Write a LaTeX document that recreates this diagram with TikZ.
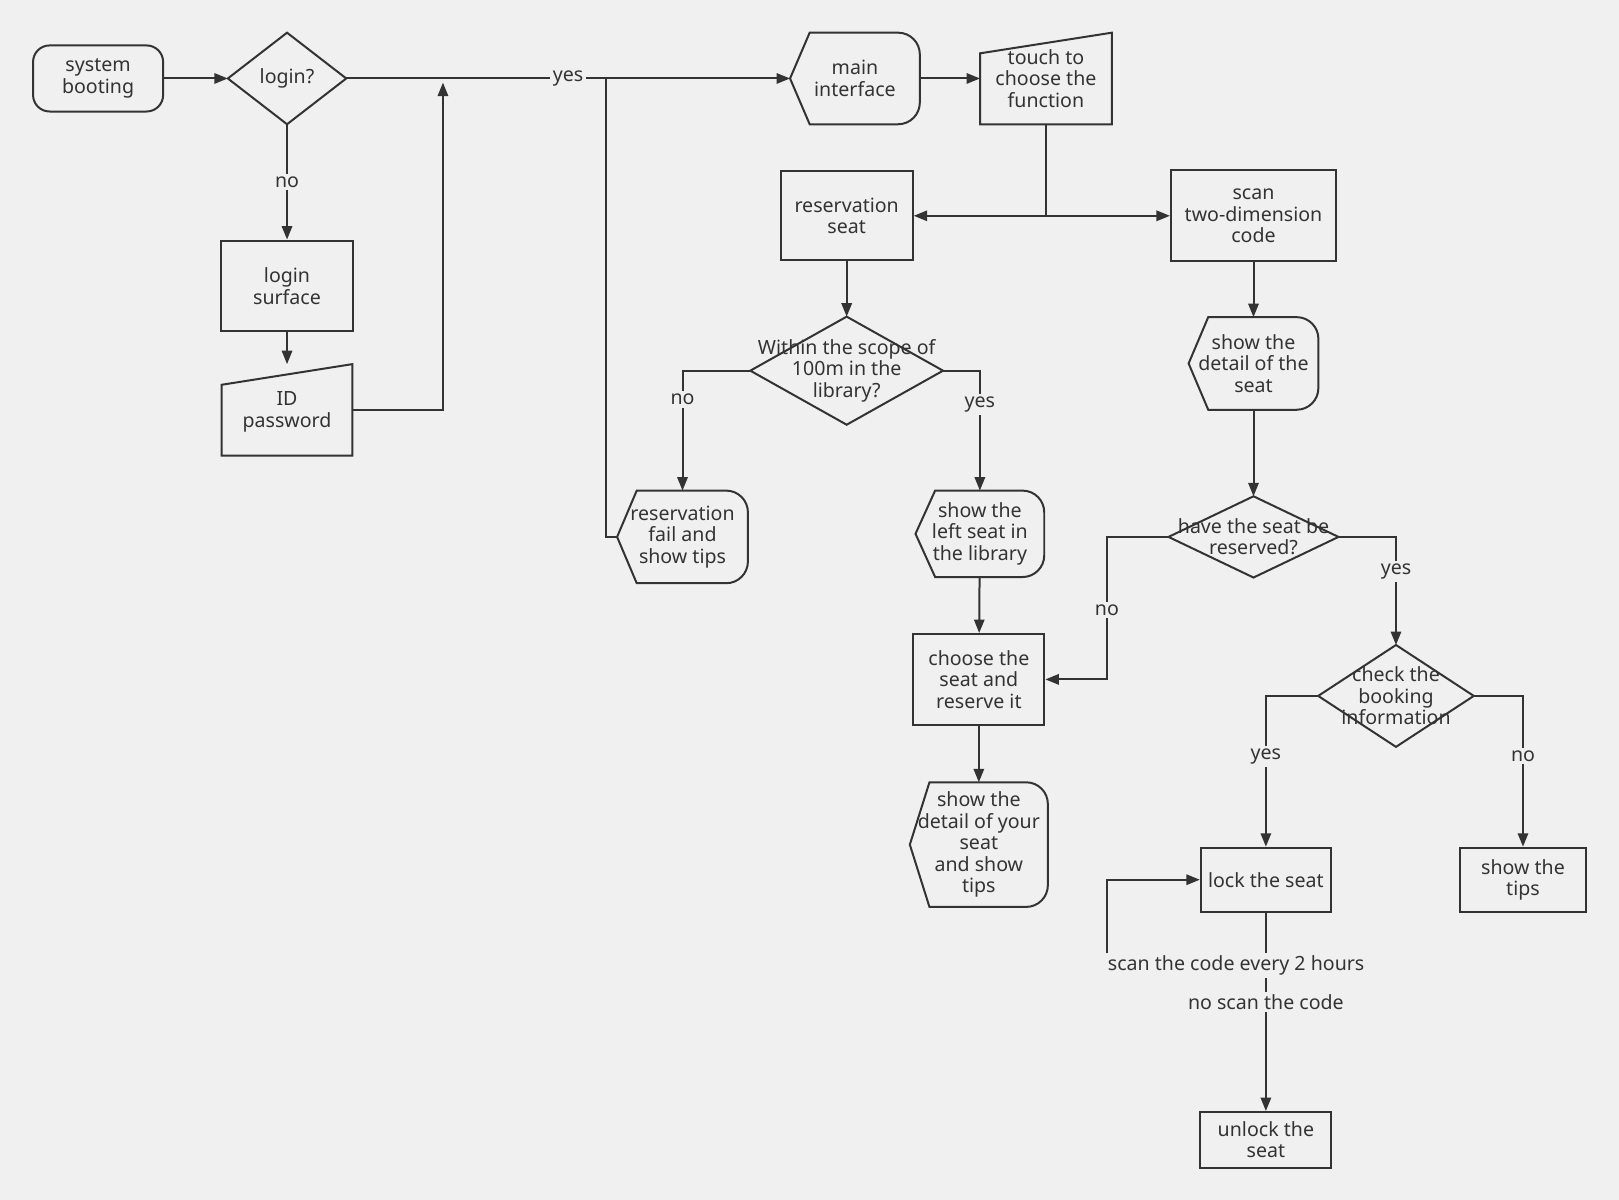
\documentclass[tikz,border=0pt]{standalone}
\usepackage{fontspec}
\setmainfont{Noto Sans}
\usetikzlibrary{arrows.meta,positioning,calc}
\definecolor{bg}{HTML}{F0F0F0}
\definecolor{ink}{HTML}{333333}
\tikzset{
  line/.style={draw=ink,line width=1.1pt},
  arr/.style={line,-{Triangle[length=0.26cm,width=0.2cm]}},
  txt/.style={align=center,font=\fontsize{10.8}{11.8}\selectfont,text=ink,inner sep=1pt},
  box/.style={txt,line,rectangle},
  plain/.style={txt},
  lab/.style={txt,fill=bg,inner sep=1.5pt}
}
\newcommand{\dispshape}[1]{%
  \draw[line] (#1.west) -- ([xshift=0.38cm]#1.north west)
     {[rounded corners=0.42cm] -- (#1.north east) -- (#1.south east)}
     -- ([xshift=0.38cm]#1.south west) -- cycle;}
\newcommand{\manshape}[1]{%
  \draw[line] (#1.south west) -- ([yshift=-0.4cm]#1.north west)
     -- (#1.north east) -- (#1.south east) -- cycle;}
\newcommand{\decshape}[1]{%
  \draw[line] (#1.north) -- (#1.east) -- (#1.south) -- (#1.west) -- cycle;}
\begin{document}
\begin{tikzpicture}[x=0.02cm,y=-0.02cm]
\fill[bg] (0,0) rectangle (1568,1162);
\useasboundingbox (0,0) rectangle (1568,1162);

% left column
\node[box,rounded corners=0.32cm,minimum width=2.52cm,minimum height=1.28cm] (boot) at (95,76) {system\\booting};
\node[plain,minimum width=2.28cm,minimum height=1.76cm] (login) at (278,76) {login?};
\decshape{login}
\node[box,minimum width=2.54cm,minimum height=1.76cm] (surface) at (278,277) {login\\surface};
\node[plain,minimum width=2.52cm,minimum height=1.76cm] (idpw) at (278,397) {\\[-2pt]ID\\password};
\manshape{idpw}

% top row
\node[plain,minimum width=2.5cm,minimum height=1.76cm] (main) at (828,76) {main\\interface};
\dispshape{main}
\node[plain,minimum width=2.54cm,minimum height=1.76cm] (touch) at (1013,76) {touch to\\choose the\\function};
\manshape{touch}
\node[box,minimum width=2.56cm,minimum height=1.72cm] (resv) at (820,209) {reservation\\seat};
\node[box,minimum width=3.2cm,minimum height=1.76cm] (scan) at (1214,209) {scan\\two-dimension\\code};

% reservation branch
\node[plain,minimum width=3.72cm,minimum height=2.08cm] (scope) at (820,359) {Within the scope of\\100m in the\\library?};
\decshape{scope}
\node[plain,minimum width=2.52cm,minimum height=1.78cm] (fail) at (661,520) {reservation\\fail and\\show tips};
\dispshape{fail}
\node[plain,minimum width=2.48cm,minimum height=1.66cm] (left) at (949,517) {show the\\left seat in\\the library};
\dispshape{left}
\node[box,minimum width=2.54cm,minimum height=1.76cm] (choose) at (948,658) {choose the\\seat and\\reserve it};
\node[plain,minimum width=2.66cm,minimum height=2.4cm] (yours) at (948,818) {show the\\detail of your\\seat\\and show\\tips};
\dispshape{yours}

% scan branch
\node[plain,minimum width=2.5cm,minimum height=1.78cm] (detail) at (1214,352) {show the\\detail of the\\seat};
\dispshape{detail}
\node[plain,minimum width=3.28cm,minimum height=1.56cm] (have) at (1214,520) {have the seat be\\reserved?};
\decshape{have}
\node[plain,minimum width=3cm,minimum height=1.96cm] (check) at (1352,674) {check the\\booking\\information};
\decshape{check}
\node[box,minimum width=2.52cm,minimum height=1.24cm] (lock) at (1226,852) {lock the seat};
\node[box,minimum width=2.46cm,minimum height=1.24cm] (tips) at (1475,852) {show the\\tips};
\node[box,minimum width=2.54cm,minimum height=1.08cm] (unlock) at (1226,1104) {unlock the\\seat};

\coordinate (back) at (429,76);
\coordinate (split) at (587,76);
\coordinate (fork) at (1013,209);
\coordinate (loop) at (1072,925);

% connectors
\draw[arr] (boot) -- (login.west);
\draw[arr] (login.south) -- node[lab,pos=0.5]{no} (surface);
\draw[arr] (surface) -- (idpw);
\draw[arr] (idpw.east) -| ([yshift=-0.08cm]back);
\draw[arr] (login.east) -- node[lab,pos=0.5]{yes} (main.west);
\draw[line] (split) |- (fail.west);
\draw[arr] (main) -- (touch.west |- main);
\draw[line] (touch.south) -- (fork);
\draw[arr] (fork) -- (resv.east);
\draw[arr] (fork) -- (scan.west);
\draw[arr] (resv) -- (scope.north);
\draw[arr] (scope.west) -| node[lab,pos=0.62]{no} (fail.north);
\draw[arr] (scope.east) -| node[lab,pos=0.64]{yes} (left.north);
\draw[arr] (left) -- (choose);
\draw[arr] (choose) -- (yours);
\draw[arr] (scan) -- (detail);
\draw[arr] (detail) -- (have.north);
\draw[arr] (have.west) -| (1072,600) |- (choose.east);
\node[lab] (nolab) at (1072,591) {no};
\draw[arr] (have.east) -| node[lab,pos=0.66]{yes} (check.north);
\draw[arr] (check.west) -| node[lab,pos=0.7]{yes} (lock.north);
\draw[arr] (check.east) -| node[lab,pos=0.7]{no} (tips.north);
\draw[arr] (loop) |- (lock.west);
\draw[arr] (lock) -- node[lab,pos=0.45]{no scan the code} (unlock);
\node[lab,anchor=west] (every) at (1070,935) {scan the code every 2 hours};
\end{tikzpicture}
\end{document}
